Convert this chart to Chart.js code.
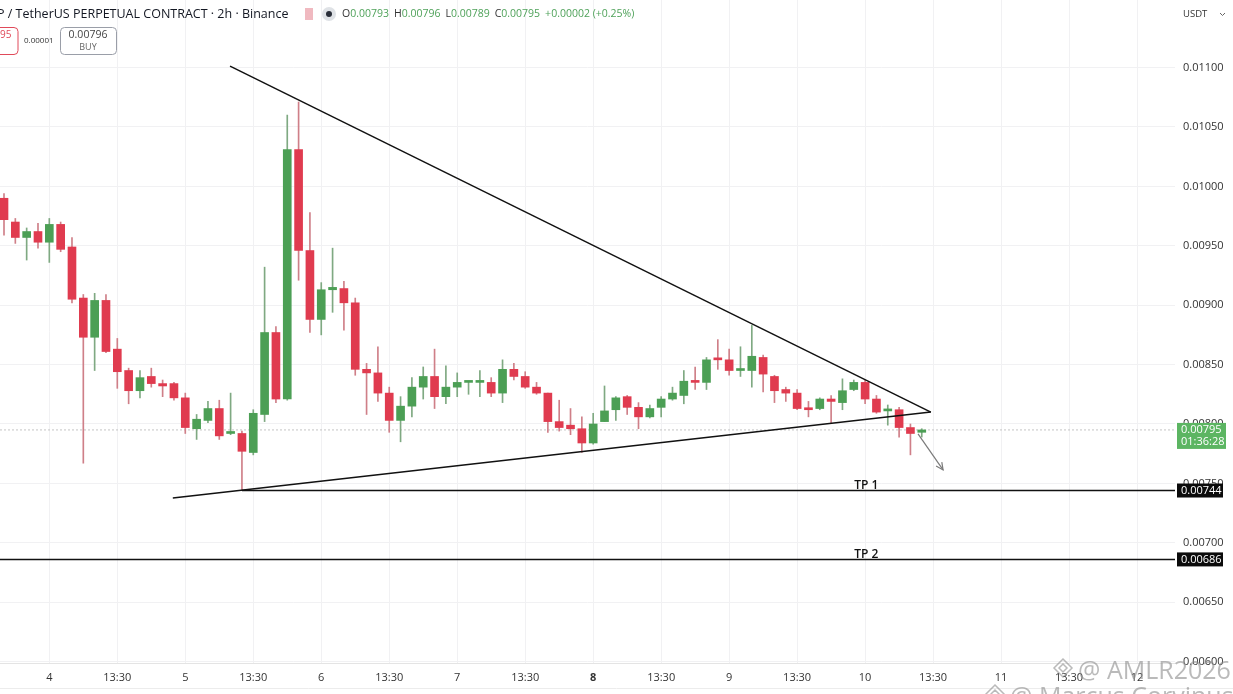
<!DOCTYPE html>
<html><head><meta charset="utf-8">
<script src="https://cdn.jsdelivr.net/npm/chart.js@4.4.1/dist/chart.umd.min.js"></script>
<style>html,body{margin:0;padding:0;background:#fff;overflow:hidden}#wrap{position:relative;width:1233px;height:694px}</style>
</head><body><div id="wrap"><canvas id="c"></canvas></div>
<script>
// ---- data (2h candles) ----
const opens = [0.00990,0.00970,0.00957,0.00962,0.00953,0.00968,0.00949,0.00906,0.00873,0.00904,
0.00863,0.00845,0.00828,0.00840,0.00834,0.00834,0.00822,0.00796,0.00803,0.00813,
0.00792,0.00792,0.00776,0.00808,0.00877,0.00821,0.01031,0.00946,0.00888,0.00913,
0.00914,0.00902,0.00846,0.00843,0.00826,0.00803,0.00815,0.00831,0.00840,0.00823,
0.00831,0.00835,0.00835,0.00835,0.00826,0.00846,0.00840,0.00831,0.00826,0.00802,
0.00799,0.00796,0.00784,0.00802,0.00812,0.00823,0.00814,0.00806,0.00814,0.00821,
0.00824,0.00836,0.00835,0.00855,0.00854,0.00845,0.00845,0.00856,0.00840,0.00829,
0.00826,0.00813,0.00813,0.00821,0.00818,0.00829,0.00835,0.00821,0.00811,0.00812,
0.00797,0.00793];
const highs = [0.00994,0.00973,0.00965,0.00969,0.00973,0.00970,0.00957,0.00909,0.00910,0.00909,
0.00872,0.00847,0.00845,0.00847,0.00837,0.00835,0.00826,0.00808,0.00819,0.00820,
0.00826,0.00794,0.00812,0.00932,0.00882,0.01060,0.01071,0.00978,0.00919,0.00948,
0.00920,0.00906,0.00851,0.00865,0.00831,0.00823,0.00839,0.00848,0.00863,0.00849,
0.00843,0.00836,0.00845,0.00839,0.00854,0.00851,0.00844,0.00835,0.00826,0.00820,
0.00813,0.00806,0.00809,0.00832,0.00823,0.00824,0.00818,0.00816,0.00823,0.00831,
0.00845,0.00848,0.00856,0.00871,0.00863,0.00865,0.00883,0.00858,0.00841,0.00831,
0.00829,0.00819,0.00822,0.00824,0.00838,0.00837,0.00837,0.00824,0.00816,0.00814,
0.00800,0.00796];
const lows = [0.00959,0.00952,0.00938,0.00948,0.00936,0.00945,0.00902,0.00767,0.00845,0.00860,
0.00830,0.00817,0.00822,0.00831,0.00823,0.00820,0.00792,0.00787,0.00801,0.00787,
0.00791,0.00744,0.00774,0.00802,0.00818,0.00820,0.00921,0.00877,0.00875,0.00894,
0.00879,0.00841,0.00808,0.00819,0.00793,0.00785,0.00806,0.00821,0.00813,0.00817,
0.00823,0.00825,0.00823,0.00823,0.00818,0.00837,0.00830,0.00825,0.00793,0.00794,
0.00791,0.00776,0.00783,0.00802,0.00803,0.00808,0.00796,0.00805,0.00806,0.00820,
0.00817,0.00829,0.00829,0.00846,0.00841,0.00840,0.00831,0.00827,0.00818,0.00819,
0.00812,0.00806,0.00812,0.00801,0.00812,0.00828,0.00817,0.00809,0.00799,0.00789,
0.00774,0.00789];
const closes = [0.00972,0.00957,0.00962,0.00953,0.00968,0.00947,0.00905,0.00873,0.00904,0.00861,
0.00844,0.00828,0.00839,0.00834,0.00832,0.00822,0.00797,0.00804,0.00813,0.00790,
0.00793,0.00777,0.00809,0.00877,0.00821,0.01031,0.00946,0.00888,0.00913,0.00915,
0.00902,0.00846,0.00843,0.00826,0.00803,0.00815,0.00831,0.00840,0.00823,0.00831,
0.00835,0.00836,0.00836,0.00826,0.00846,0.00840,0.00831,0.00826,0.00802,0.00797,
0.00796,0.00784,0.00800,0.00811,0.00822,0.00814,0.00806,0.00813,0.00821,0.00826,
0.00836,0.00835,0.00854,0.00854,0.00845,0.00845,0.00857,0.00842,0.00828,0.00826,
0.00813,0.00812,0.00821,0.00819,0.00828,0.00835,0.00821,0.00810,0.00812,0.00797,
0.00792,0.00795];

// time axis (candle slot numbers) and tick labels
const xTickPos    = [4,10,16,22,28,34,40,46,52,58,64,70,76,82,88,94,100];
const xTickLabels = ["4","13:30","5","13:30","6","13:30","7","13:30","8","13:30","9","13:30","10","13:30","11","13:30","12"];
const yTicks = [0.0060,0.0065,0.0070,0.0075,0.0080,0.0085,0.0090,0.0095,0.0100,0.0105,0.0110];

// drawings (slot, price)
const upperLine = [{x:19.95,y:0.011013},{x:81.8,y:0.00810}];
const lowerLine = [{x:14.9,y:0.007377},{x:81.8,y:0.00810}];
const tp1Price = 0.00744, tp1Start = 21.0;
const tp2Price = 0.00686;
const lastPrice = 0.00795;
const arrowFrom = {x:80.67,y:0.007916}, arrowTo = {x:82.88,y:0.007613};
const tpLabelSlot = 76.1;

const xMin = -0.353, xMax = 103.35;
const yMin = 0.005988, yMax = 0.011569;

const UP = '#4c9f55', DOWN = '#e03b4f';
const UPW = '#7fa982', DOWNW = '#cf7f88';
const slots = opens.map((_, i) => i);
const isUp = slots.map(i => closes[i] >= opens[i]);
const FONT = "'Open Sans', 'Noto Sans', sans-serif";

const overlay = {
  id: 'overlay',
  afterDraw(chart) {
    const ctx = chart.ctx, xs = chart.scales.x, ys = chart.scales.y, ca = chart.chartArea;
    const px = v => xs.getPixelForValue(v), py = v => ys.getPixelForValue(v);
    ctx.save();
    // TP labels
    ctx.fillStyle = '#111';
    ctx.font = `600 12px ${FONT}`;
    ctx.textAlign = 'center'; ctx.textBaseline = 'bottom';
    ctx.fillText('TP 1', px(tpLabelSlot), py(tp1Price) + 1);
    ctx.fillText('TP 2', px(tpLabelSlot), py(tp2Price) + 1);
    // arrow
    const ax1 = px(arrowFrom.x), ay1 = py(arrowFrom.y), ax2 = px(arrowTo.x), ay2 = py(arrowTo.y);
    ctx.strokeStyle = '#7a7a7a'; ctx.lineWidth = 1.2;
    ctx.beginPath(); ctx.moveTo(ax1, ay1); ctx.lineTo(ax2, ay2); ctx.stroke();
    const ang = Math.atan2(ay2 - ay1, ax2 - ax1);
    ctx.beginPath();
    ctx.moveTo(ax2 - 8*Math.cos(ang-0.45), ay2 - 8*Math.sin(ang-0.45));
    ctx.lineTo(ax2, ay2);
    ctx.lineTo(ax2 - 8*Math.cos(ang+0.45), ay2 - 8*Math.sin(ang+0.45));
    ctx.stroke();
    // price axis labels
    const bx = ca.right + 2;
    function box(price, color, lines, w, h) {
      const cy = py(price);
      ctx.fillStyle = color;
      ctx.fillRect(bx, cy - 7, w, h);
      ctx.fillStyle = '#fff'; ctx.font = `11px ${FONT}`;
      ctx.textAlign = 'left'; ctx.textBaseline = 'middle';
      lines.forEach((t, k) => ctx.fillText(t, bx + 4, cy + k * 12));
    }
    box(tp1Price, '#0b0b0b', ['0.00744'], 46, 14);
    box(tp2Price, '#0b0b0b', ['0.00686'], 46, 14);
    box(lastPrice, '#5cb562', ['0.00795', '01:36:28'], 49, 26);
    // header
    ctx.textAlign = 'left'; ctx.textBaseline = 'middle';
    ctx.fillStyle = '#131722'; ctx.font = `12.5px ${FONT}`;
    ctx.fillText('P / TetherUS PERPETUAL CONTRACT · 2h · Binance', -3, 14);
    ctx.fillStyle = '#f0b9c0'; ctx.fillRect(305, 8, 8, 12);
    ctx.fillStyle = '#dfe2e6'; ctx.beginPath(); ctx.arc(329, 14, 7, 0, 7); ctx.fill();
    ctx.fillStyle = '#2a2e39'; ctx.beginPath(); ctx.arc(329, 14, 3, 0, 7); ctx.fill();
    let hx = 342;
    ctx.font = `10.5px ${FONT}`;
    [['O','0.00793'],['H','0.00796'],['L','0.00789'],['C','0.00795']].forEach(([k, v]) => {
      ctx.fillStyle = '#333'; ctx.fillText(k, hx, 14); hx += ctx.measureText(k).width;
      ctx.fillStyle = '#4fa25a'; ctx.fillText(v, hx, 14); hx += ctx.measureText(v).width + 5;
    });
    ctx.fillStyle = '#4fa25a'; ctx.fillText('+0.00002 (+0.25%)', hx, 14);
    // buy/sell boxes
    ctx.strokeStyle = '#e04a5a'; ctx.lineWidth = 1;
    ctx.beginPath(); ctx.roundRect(-6, 27.5, 24, 27, 4); ctx.stroke();
    ctx.fillStyle = '#e04a5a'; ctx.font = `10px ${FONT}`; ctx.fillText('95', 0, 35);
    ctx.fillStyle = '#333'; ctx.font = `8px ${FONT}`; ctx.fillText('0.00001', 24, 41);
    ctx.strokeStyle = '#9a9ea8';
    ctx.beginPath(); ctx.roundRect(60.5, 27.5, 56, 27, 4); ctx.stroke();
    ctx.textAlign = 'center'; ctx.fillStyle = '#444'; ctx.font = `10.5px ${FONT}`;
    ctx.fillText('0.00796', 88, 35);
    ctx.fillStyle = '#666'; ctx.font = `9px ${FONT}`; ctx.fillText('BUY', 88, 47);
    // currency selector
    ctx.textAlign = 'left'; ctx.fillStyle = '#333'; ctx.font = `9.5px ${FONT}`;
    ctx.fillText('USDT', 1183, 14);
    ctx.strokeStyle = '#666'; ctx.beginPath(); ctx.moveTo(1220, 13); ctx.lineTo(1222.5, 15.5); ctx.lineTo(1225, 13); ctx.stroke();
    // line under time axis
    ctx.strokeStyle = '#ececec'; ctx.beginPath(); ctx.moveTo(0, 688.5); ctx.lineTo(1233, 688.5); ctx.stroke();
    // watermark
    ctx.fillStyle = 'rgba(140,140,140,0.6)'; ctx.strokeStyle = 'rgba(140,140,140,0.6)';
    ctx.font = `25px ${FONT}`; ctx.textBaseline = 'alphabetic';
    ctx.fillText('@ AMLR2026', 1078, 679);
    ctx.fillText('@ Marcus Corvinus', 1010, 705);
    [[1063, 668], [995, 694]].forEach(([cx, cy]) => {
      ctx.lineWidth = 1.5;
      ctx.beginPath(); ctx.moveTo(cx, cy - 9); ctx.lineTo(cx + 9, cy); ctx.lineTo(cx, cy + 9); ctx.lineTo(cx - 9, cy); ctx.closePath(); ctx.stroke();
      ctx.beginPath(); ctx.moveTo(cx, cy - 4); ctx.lineTo(cx + 4, cy); ctx.lineTo(cx, cy + 4); ctx.lineTo(cx - 4, cy); ctx.closePath(); ctx.stroke();
    });
    ctx.restore();
  }
};

const lineDs = (data, color, width, order, dash) => ({
  type: 'line', data, borderColor: color, borderWidth: width, pointRadius: 0,
  borderDash: dash || [], order, fill: false, tension: 0
});

new Chart(document.getElementById('c'), {
  type: 'bar',
  data: {
    datasets: [
      lineDs([{x:xMin,y:lastPrice},{x:xMax,y:lastPrice}], '#c4c4c4', 1, 5, [2,2]),
      { label: 'wicks', data: slots.map(i => ({x:i, y:[lows[i], highs[i]]})),
        backgroundColor: slots.map(i => isUp[i] ? UPW : DOWNW), barThickness: 1, grouped: false, order: 4 },
      { label: 'bodies', data: slots.map(i => ({x:i, y:[opens[i], closes[i]]})),
        backgroundColor: slots.map(i => isUp[i] ? UP : DOWN), barThickness: 8, minBarLength: 2, grouped: false, order: 3 },
      lineDs(upperLine, '#111', 1.5, 1),
      lineDs(lowerLine, '#111', 1.5, 1),
      lineDs([{x:tp1Start,y:tp1Price},{x:xMax,y:tp1Price}], '#111', 1.5, 1),
      lineDs([{x:xMin,y:tp2Price},{x:xMax,y:tp2Price}], '#111', 1.5, 1)
    ]
  },
  options: {
    responsive: true, maintainAspectRatio: false, animation: false,
    layout: { padding: 0 },
    plugins: { legend: { display: false }, tooltip: { enabled: false } },
    scales: {
      x: {
        type: 'linear', min: xMin, max: xMax, offset: false,
        grid: { color: '#f1f1f3', drawTicks: false, offset: false },
        border: { display: true, color: '#e4e4e4' },
        afterBuildTicks: s => { s.ticks = xTickPos.map(v => ({ value: v })); },
        afterFit: s => { s.height = 31; s.paddingLeft = 0; s.paddingRight = 0; },
        ticks: {
          autoSkip: false, maxRotation: 0, padding: 8, color: '#333',
          font: c => ({ family: FONT, size: 11, weight: (c.tick && xTickLabels[xTickPos.indexOf(c.tick.value)] === '8') ? 'bold' : 'normal' }),
          callback: v => { const k = xTickPos.indexOf(v); return k >= 0 ? xTickLabels[k] : ''; }
        }
      },
      y: {
        type: 'linear', position: 'right', min: yMin, max: yMax,
        grid: { color: '#f1f1f3', drawTicks: false },
        border: { display: false },
        afterBuildTicks: s => { s.ticks = yTicks.map(v => ({ value: v })); },
        afterFit: s => { s.width = 58; s.paddingTop = 0; s.paddingBottom = 0; },
        ticks: { padding: 8, color: '#333', font: { family: FONT, size: 11 }, callback: v => v.toFixed(5) }
      }
    }
  },
  plugins: [overlay]
});
</script></body></html>
